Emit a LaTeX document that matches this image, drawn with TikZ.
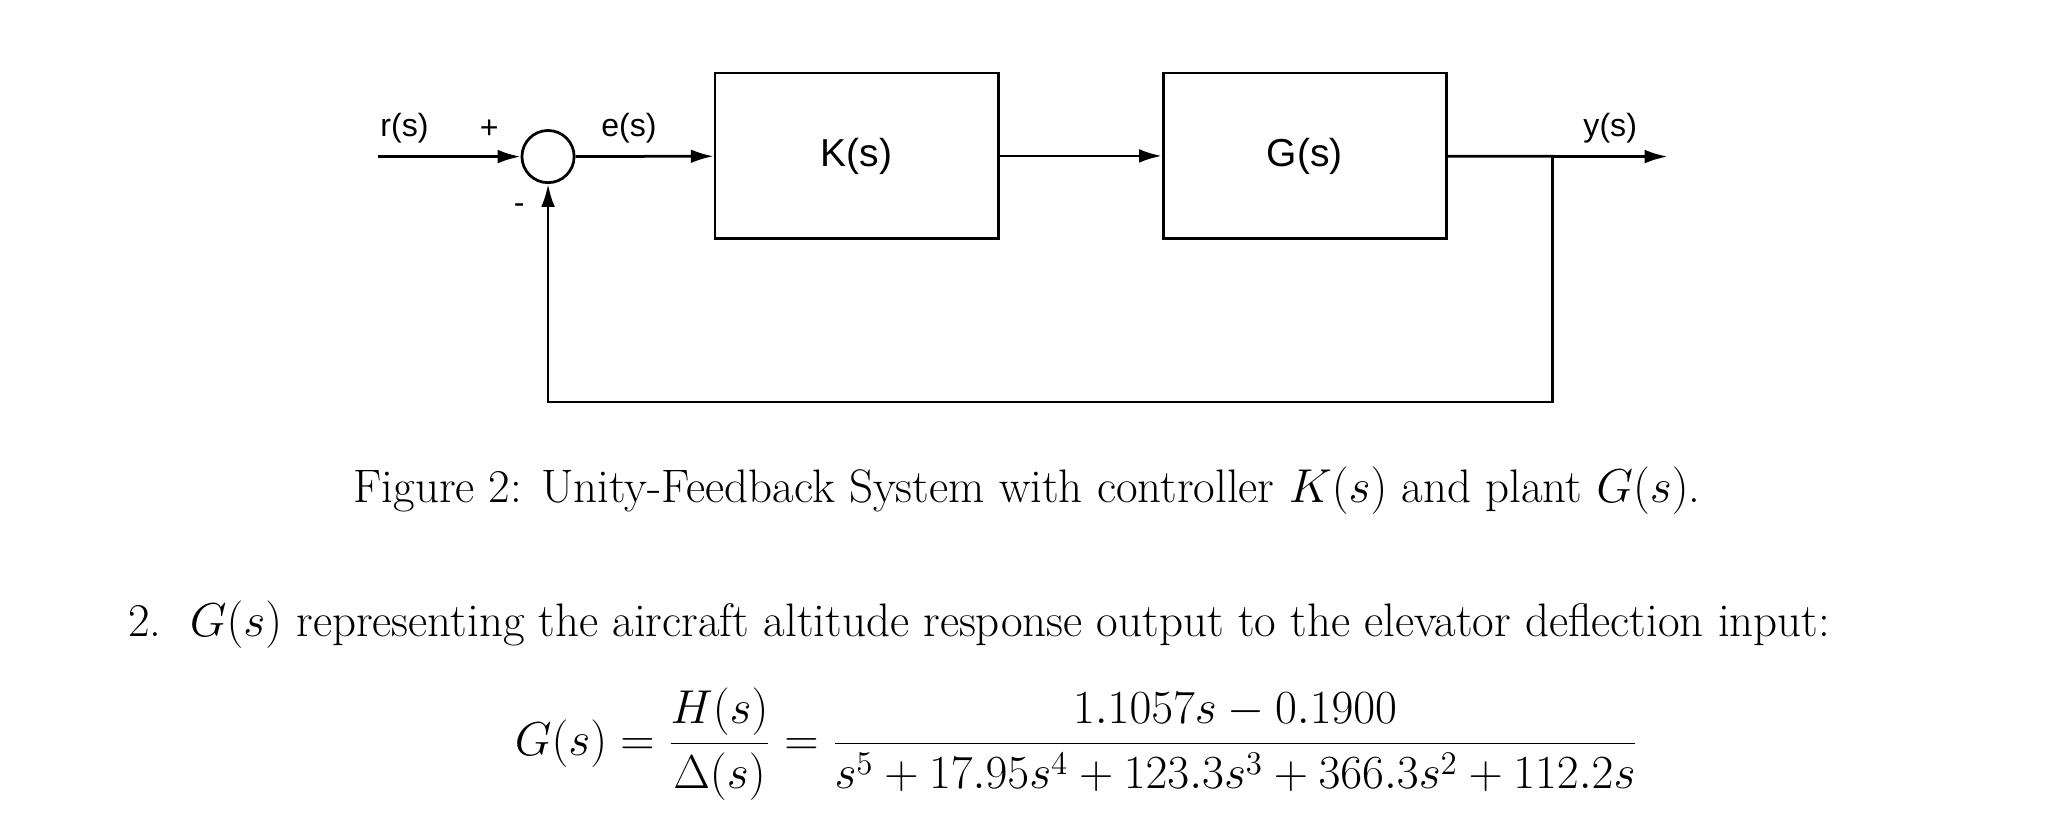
\documentclass[tikz,border=0pt]{standalone}
\usepackage{fontspec}
\newfontfamily\blksf{Liberation Sans}
\usetikzlibrary{arrows.meta}
\begin{document}
\begin{tikzpicture}[x=0.02cm,y=-0.02cm,
  blk/.style={draw,line width=1.2pt,minimum width=4.34cm,minimum height=2.54cm,font=\blksf\fontsize{17}{20}\selectfont},
  lbl/.style={font=\blksf\fontsize{14}{17}\selectfont},
  txt/.style={font=\fontsize{20.5}{24}\selectfont},
  arr/.style={line width=1.2pt,-{Latex[length=10pt,width=6pt]}},
  ln/.style={line width=1.2pt}]
\useasboundingbox (0,0) rectangle (1568,628);
\node[draw,circle,line width=1.2pt,minimum size=0.8cm,inner sep=0] (sum) at (420,120) {};
\node[blk] (K) at (656.5,119.5) {K(s)};
\node[blk] (G) at (1000,119.5) {G(s)};
\coordinate (r) at (290,120);
\coordinate (y) at (1278,120);
\coordinate (b) at (1190,120);
\coordinate (b1) at (1190,308);
\coordinate (b2) at (420,308);
\draw[arr] (r) -- (sum);
\draw[arr] (sum) -- (K);
\draw[arr] (K) -- (G);
\draw[arr] (G) -- (y);
\draw[arr] (b) -- (b1) -- (b2) -- (sum);
\node[lbl] (lr) at (310,98) {r(s)};
\node[lbl] (lp) at (375,99) {+};
\node[lbl] (le) at (482,98) {e(s)};
\node[lbl] (lm) at (398,160) {-};
\node[lbl] (ly) at (1234,98) {y(s)};
\node[txt] (cap) at (787,376) {Figure 2: Unity-Feedback System with controller $K(s)$ and plant $G(s)$.};
\node[txt,anchor=west] (item) at (92,479) {2.\ \ $G(s)$ representing the aircraft altitude response output to the elevator deflection input:};
\node[txt] (eq) at (825,570) {$\displaystyle G(s)=\frac{H(s)}{\Delta(s)}=\frac{1.1057s-0.1900}{s^5+17.95s^4+123.3s^3+366.3s^2+112.2s}$};
\end{tikzpicture}
\end{document}
